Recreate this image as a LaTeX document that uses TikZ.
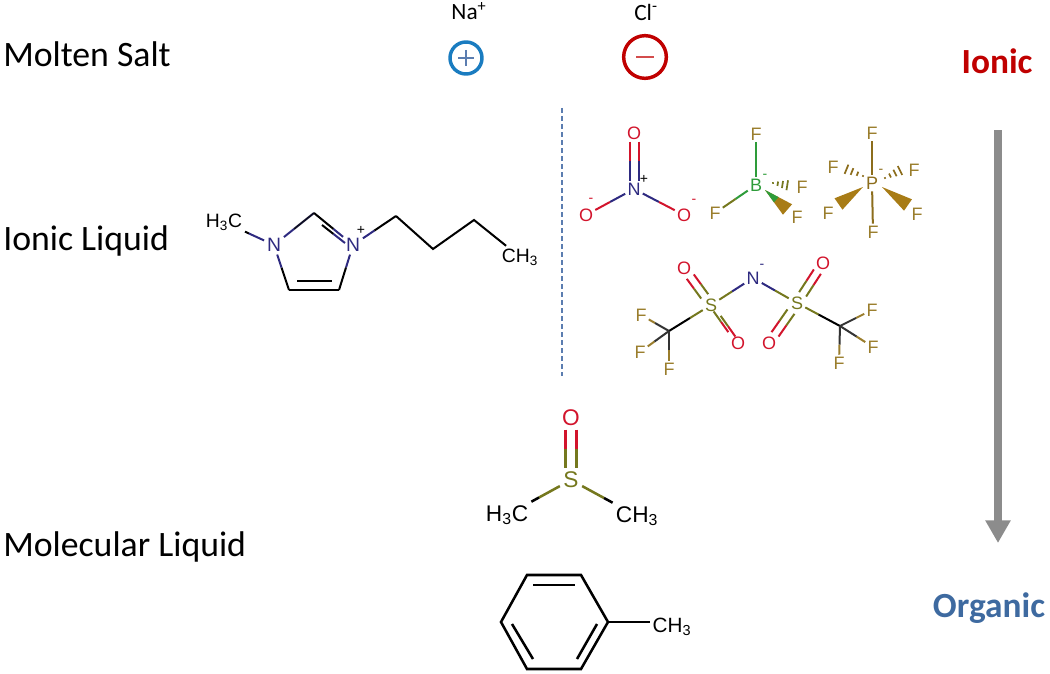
\documentclass[tikz,border=0pt]{standalone}
\usepackage{fontspec}
\setmainfont{Liberation Sans}
\newfontfamily\labelfont{Carlito}
\usepackage{xcolor}
\usetikzlibrary{arrows.meta,calc}

\definecolor{oxred}{HTML}{D2142C}
\definecolor{nitro}{HTML}{2E2A80}
\definecolor{sulfur}{HTML}{75781E}
\definecolor{fluor}{HTML}{9A7D2C}
\definecolor{phos}{HTML}{8C6D1C}
\definecolor{wedgeb}{HTML}{A87C16}
\definecolor{boron}{HTML}{2E9C3A}
\definecolor{ionicred}{HTML}{C00000}
\definecolor{organicblue}{HTML}{3E6AA0}
\definecolor{sepblue}{HTML}{5B7DB0}
\definecolor{plusblue}{HTML}{1A7CC0}

\newcommand{\bond}[5][]{%
  \draw[bond,#1,draw=#4] (#2) -- ($(#2)!.5!(#3)$);
  \draw[bond,#1,draw=#5] ($(#2)!.5!(#3)$) -- (#3);}
\newcommand{\hashbond}[3]{%
  \foreach \t in {0,.25,.5,.75,1} {
    \pgfmathsetmacro\hw{.6+\t*4.2}
    \draw[line width=1.3pt,draw=#3] ($(#1)!\t!(#2)!\hw pt!90:(#2)$) -- ($(#1)!\t!(#2)!\hw pt!-90:(#2)$);
  }}
\newcommand{\wedgebond}[3]{%
  \fill[#3] (#1) -- ($(#2)!5.2pt!90:(#1)$) -- ($(#2)!5.2pt!-90:(#1)$) -- cycle;}

\begin{document}
\begin{tikzpicture}[
    x=0.75pt, y=-0.75pt,
    bond/.style={line width=1.5pt},
    ringbond/.style={line width=1.9pt},
    atom/.style={inner sep=1.5pt, font=\fontsize{13.5}{14}\selectfont},
    bigatom/.style={inner sep=2pt, font=\fontsize{14.5}{15}\selectfont},
    dmsoatom/.style={inner sep=2.5pt, font=\fontsize{17}{18}\selectfont},
    charge/.style={inner sep=0pt, font=\fontsize{10.5}{10}\selectfont},
    rowlabel/.style={inner sep=0pt, anchor=west, font=\labelfont\fontsize{26.8}{28}\selectfont},
    scalelabel/.style={inner sep=0pt, font=\labelfont\bfseries\fontsize{26.5}{28}\selectfont},
    ionname/.style={inner sep=0pt, font=\labelfont\fontsize{17.5}{18}\selectfont},
    ionsign/.style={circle, inner sep=0pt, line width=2.6pt}
]
    \useasboundingbox (0,0) rectangle (1050,674);

    % row labels
    \node[rowlabel] (molten) at (3,54) {Molten Salt};
    \node[rowlabel] (ionicliq) at (3,241) {Ionic Liquid};
    \node[rowlabel] (molecular) at (3,547) {Molecular Liquid};
    \node[scalelabel, text=ionicred] (ionic) at (997,61) {Ionic};
    \node[scalelabel, text=organicblue] (organic) at (989,608) {Organic};

    % scale arrow
    \coordinate (scaletop) at (998,130);
    \coordinate (scalebot) at (998,543);
    \draw[line width=6.5pt, draw=black!45, -{Triangle[length=17pt,width=18pt]}] (scaletop) -- (scalebot);

    % salt ions
    \node[ionname] (na) at (469,11) {Na\textsuperscript{+}};
    \node[ionname] (cl) at (646,12) {Cl\textsuperscript{-}};
    \node[ionsign, draw=plusblue, minimum size=24pt] (naion) at (466,58) {};
    \node[ionsign, draw=ionicred, minimum size=32pt] (clion) at (645,57) {};
    \draw[line width=.9pt, draw=sepblue] ($(naion.center)+(-8,0)$) -- ($(naion.center)+(8,0)$);
    \draw[line width=.9pt, draw=sepblue] ($(naion.center)+(0,-8)$) -- ($(naion.center)+(0,8)$);
    \draw[line width=.9pt, draw=ionicred!70] ($(clion.center)+(-9,0)$) -- ($(clion.center)+(9,0)$);

    % separator
    \coordinate (septop) at (562,108);
    \coordinate (sepbot) at (562,376);
    \draw[line width=.8pt, draw=sepblue, dash pattern=on 3.5pt off 2.5pt] (septop) -- (sepbot);

    % imidazolium
    \node[bigatom] (hthreec) at (224,222) {H\textsubscript{3}C};
    \node[bigatom, text=nitro] (none) at (274,245) {N};
    \coordinate (ctwo) at (314,213);
    \node[bigatom, text=nitro] (nthree) at (353,245) {N};
    \node[charge] (nplus) at (361,230) {+};
    \coordinate (cfour) at (339,290);
    \coordinate (cfive) at (289,290);
    \coordinate (bua) at (396,216);
    \coordinate (bub) at (433,249);
    \coordinate (buc) at (474,220);
    \node[bigatom] (buch) at (520,257) {CH\textsubscript{3}};
    \bond{hthreec}{none}{black}{nitro}
    \bond{none}{ctwo}{nitro}{black!70!nitro}
    \bond{ctwo}{nthree}{black}{nitro}
    \coordinate (dba) at (322,225);
    \coordinate (dbb) at (345,243);
    \bond{dba}{dbb}{black}{nitro}
    \bond{nthree}{cfour}{nitro}{black}
    \draw[bond] (cfour) -- (cfive);
    \bond{cfive}{none}{black}{nitro}
    \coordinate (dbc) at (297,281);
    \coordinate (dbd) at (332,281);
    \draw[bond] (dbc) -- (dbd);
    \bond{nthree}{bua}{nitro}{black}
    \draw[bond] (bua) -- (bub) -- (buc) -- (buch);

    % nitrate
    \node[atom, text=oxred] (notop) at (634,133) {O};
    \node[atom, text=nitro] (nn) at (634,189) {N};
    \node[atom, text=oxred] (noleft) at (586,215) {O};
    \node[atom, text=oxred] (noright) at (684,215) {O};
    \node[charge] (nnplus) at (644,179) {+};
    \node[charge, text=oxred] (nominusl) at (591,200) {-};
    \node[charge, text=oxred] (nominusr) at (694,201) {-};
    \bond[transform canvas={shift={(-4.5,0)}}]{notop}{nn}{oxred}{nitro}
    \bond[transform canvas={shift={(4.5,0)}}]{notop}{nn}{oxred}{nitro}
    \bond{nn}{noleft}{nitro}{oxred}
    \bond{nn}{noright}{nitro}{oxred}

    % tetrafluoroborate
    \node[atom, text=boron] (bb) at (756,185) {B};
    \node[charge, text=boron] (bminus) at (765,176) {-};
    \node[atom, text=fluor] (bftop) at (756,134) {F};
    \node[atom, text=fluor] (bfleft) at (715,213) {F};
    \node[atom, text=fluor] (bfright) at (802,187) {F};
    \node[atom, text=fluor] (bflow) at (797,217) {F};
    \draw[bond, draw=boron] (bftop) -- (bb);
    \bond{bb}{bfleft}{boron}{sulfur}
    \coordinate (bha) at (773,183);
    \coordinate (bhb) at (792,186);
    \hashbond{bha}{bhb}{sulfur}
    \coordinate (bwa) at (765,190);
    \coordinate (bwb) at (787.5,209.5);
    \wedgebond{bwa}{bwb}{wedgeb}
    \fill[boron] (bwa) -- ($(bwa)!.5!(bwb)!2.6pt!90:(bwb)$) -- ($(bwa)!.5!(bwb)!2.6pt!-90:(bwb)$) -- cycle;

    % hexafluorophosphate
    \node[atom, text=phos] (pp) at (872,183) {P};
    \node[charge, text=phos] (pminus) at (881,171) {-};
    \node[atom, text=fluor] (pftop) at (872,133) {F};
    \node[atom, text=fluor] (pfbot) at (873,232) {F};
    \node[atom, text=fluor] (pful) at (833,167) {F};
    \node[atom, text=fluor] (pfur) at (914,170) {F};
    \node[atom, text=fluor] (pfll) at (828,213) {F};
    \node[atom, text=fluor] (pflr) at (917,214) {F};
    \draw[bond, draw=phos] (pftop) -- (pp);
    \draw[bond, draw=phos] (pp) -- (pfbot);
    \coordinate (pha) at (863,176);
    \coordinate (phb) at (841,167);
    \hashbond{pha}{phb}{phos}
    \coordinate (phc) at (885,178);
    \coordinate (phd) at (905,168);
    \hashbond{phc}{phd}{phos}
    \coordinate (pwa) at (863,187);
    \coordinate (pwb) at (838.5,204);
    \wedgebond{pwa}{pwb}{wedgeb}
    \coordinate (pwc) at (882,187);
    \coordinate (pwd) at (908,205);
    \wedgebond{pwc}{pwd}{wedgeb}

    % bistriflimide
    \node[atom, text=nitro] (tn) at (753,278) {N};
    \node[charge, text=nitro] (tnminus) at (762,266) {-};
    \node[atom, text=sulfur] (tsa) at (711,305) {S};
    \node[atom, text=sulfur] (tsb) at (797,303) {S};
    \node[atom, text=oxred] (toa) at (684,268) {O};
    \node[atom, text=oxred] (tob) at (738,343) {O};
    \node[atom, text=oxred] (toc) at (769,343) {O};
    \node[atom, text=oxred] (tod) at (823,263) {O};
    \coordinate (tca) at (669,331);
    \coordinate (tcb) at (840,326);
    \node[atom, text=fluor] (tfa) at (641,315) {F};
    \node[atom, text=fluor] (tfb) at (640,352) {F};
    \node[atom, text=fluor] (tfc) at (669,369) {F};
    \node[atom, text=fluor] (tfd) at (872,310) {F};
    \node[atom, text=fluor] (tfe) at (873,347) {F};
    \node[atom, text=fluor] (tff) at (839,363) {F};
    \bond{tn}{tsa}{nitro}{sulfur}
    \bond{tn}{tsb}{nitro}{sulfur}
    \bond[transform canvas={shift={(-3.5,2.2)}}]{toa}{tsa}{oxred}{sulfur}
    \bond[transform canvas={shift={(3.5,-2.2)}}]{toa}{tsa}{oxred}{sulfur}
    \bond[transform canvas={shift={(-3.5,-2.2)}}]{tob}{tsa}{oxred}{sulfur}
    \bond[transform canvas={shift={(3.5,2.2)}}]{tob}{tsa}{oxred}{sulfur}
    \bond[transform canvas={shift={(-3.5,-2.2)}}]{toc}{tsb}{oxred}{sulfur}
    \bond[transform canvas={shift={(3.5,2.2)}}]{toc}{tsb}{oxred}{sulfur}
    \bond[transform canvas={shift={(-3.5,-2.2)}}]{tod}{tsb}{oxred}{sulfur}
    \bond[transform canvas={shift={(3.5,2.2)}}]{tod}{tsb}{oxred}{sulfur}
    \bond{tsa}{tca}{sulfur}{black}
    \bond{tsb}{tcb}{sulfur}{black}
    \bond{tfa}{tca}{fluor}{black!80}
    \bond{tfb}{tca}{fluor}{black!80}
    \bond{tfc}{tca}{fluor}{black!80}
    \bond{tfd}{tcb}{fluor}{black!80}
    \bond{tfe}{tcb}{fluor}{black!80}
    \bond{tff}{tcb}{fluor}{black!80}

    % dimethyl sulfoxide
    \node[dmsoatom, text=oxred] (doo) at (571,418) {O};
    \node[dmsoatom, text=sulfur] (dss) at (571,480) {S};
    \node[dmsoatom] (dma) at (507,515) {H\textsubscript{3}C};
    \node[dmsoatom] (dmb) at (637,516) {CH\textsubscript{3}};
    \bond[line width=1.9pt, transform canvas={shift={(-5.5,0)}}]{doo}{dss}{oxred}{sulfur}
    \bond[line width=1.9pt, transform canvas={shift={(5.5,0)}}]{doo}{dss}{oxred}{sulfur}
    \bond[line width=1.9pt]{dss}{dma}{sulfur}{black}
    \bond[line width=1.9pt]{dss}{dmb}{sulfur}{black}

    % toluene
    \coordinate (ra) at (527,575);
    \coordinate (rb) at (581,575);
    \coordinate (rc) at (608,622);
    \coordinate (rd) at (581,669);
    \coordinate (re) at (527,669);
    \coordinate (rf) at (501,622);
    \node[bigatom, font=\fontsize{15.5}{16}\selectfont] (tolch) at (672,627) {CH\textsubscript{3}};
    \draw[ringbond] (ra) -- (rb) -- (rc) -- (rd) -- (re) -- (rf) -- cycle;
    \coordinate (ria) at (533,585);
    \coordinate (rib) at (575,585);
    \coordinate (ric) at (597,624);
    \coordinate (rid) at (577,659);
    \coordinate (rie) at (533,659);
    \coordinate (rif) at (512,624);
    \draw[ringbond] (ria) -- (rib);
    \draw[ringbond] (ric) -- (rid);
    \draw[ringbond] (rie) -- (rif);
    \draw[ringbond] (rc) -- (rc -| tolch.west);
\end{tikzpicture}
\end{document}
